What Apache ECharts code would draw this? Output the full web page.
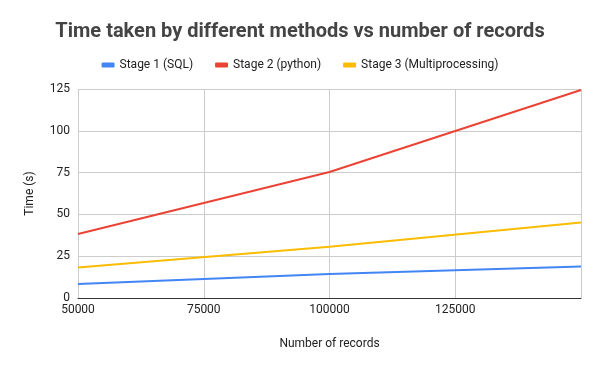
<!DOCTYPE html>
<html><head><meta charset="utf-8">
<script src="https://cdn.jsdelivr.net/npm/echarts@6/dist/echarts.min.js"></script>
<style>html,body{margin:0;padding:0;background:#fff}#c{width:600px;height:371px}</style>
</head><body><div id="c"></div>
<script>
const records = [50000, 100000, 150000];
const stage1 = [8.4, 14.4, 18.9];
const stage2 = [38.3, 75.4, 124.4];
const stage3 = [18.3, 30.7, 45.2];
const seriesNames = ['Stage 1 (SQL)', 'Stage 2 (python)', 'Stage 3 (Multiprocessing)'];
const colors = ['#4285F4', '#EA4335', '#FBBC04'];
const values = [stage1, stage2, stage3];

const chart = echarts.init(document.getElementById('c'));
chart.setOption({
  animation: false,
  textStyle: {fontFamily: 'Roboto'},
  title: {
    text: 'Time taken by different methods vs number of records',
    left: 'center', top: 17,
    textStyle: {fontSize: 20, fontWeight: 'bold', color: '#444', fontFamily: 'Roboto'}
  },
  legend: {
    top: 54, left: 'center',
    itemWidth: 13, itemHeight: 5, itemGap: 22,
    icon: 'roundRect',
    textStyle: {fontSize: 12, color: '#222', fontFamily: 'Roboto'},
    data: seriesNames
  },
  grid: {left: 78, right: 19, top: 89, bottom: 73},
  xAxis: {
    type: 'value', min: 50000, max: 150000, interval: 25000,
    name: 'Number of records', nameLocation: 'middle', nameGap: 40,
    nameTextStyle: {fontSize: 12, color: '#222'},
    axisLabel: {showMaxLabel: false, fontSize: 12, color: '#222', margin: 6, formatter: v => String(v)},
    axisLine: {show: true, lineStyle: {color: '#333', width: 1}},
    axisTick: {show: false},
    splitLine: {show: true, lineStyle: {color: '#ccc'}}
  },
  yAxis: {
    type: 'value', min: 0, max: 125, interval: 25,
    name: 'Time (s)', nameLocation: 'middle', nameGap: 42,
    nameTextStyle: {fontSize: 12, color: '#222'},
    axisLabel: {fontSize: 12, color: '#222', margin: 8},
    axisLine: {show: false}, axisTick: {show: false},
    splitLine: {show: true, lineStyle: {color: '#ccc'}}
  },
  series: seriesNames.map((n, i) => ({
    name: n, type: 'line', showSymbol: false, symbol: 'none',
    data: records.map((r, j) => [r, values[i][j]]),
    lineStyle: {width: 2, color: colors[i]},
    itemStyle: {color: colors[i]}
  }))
});
</script></body></html>
